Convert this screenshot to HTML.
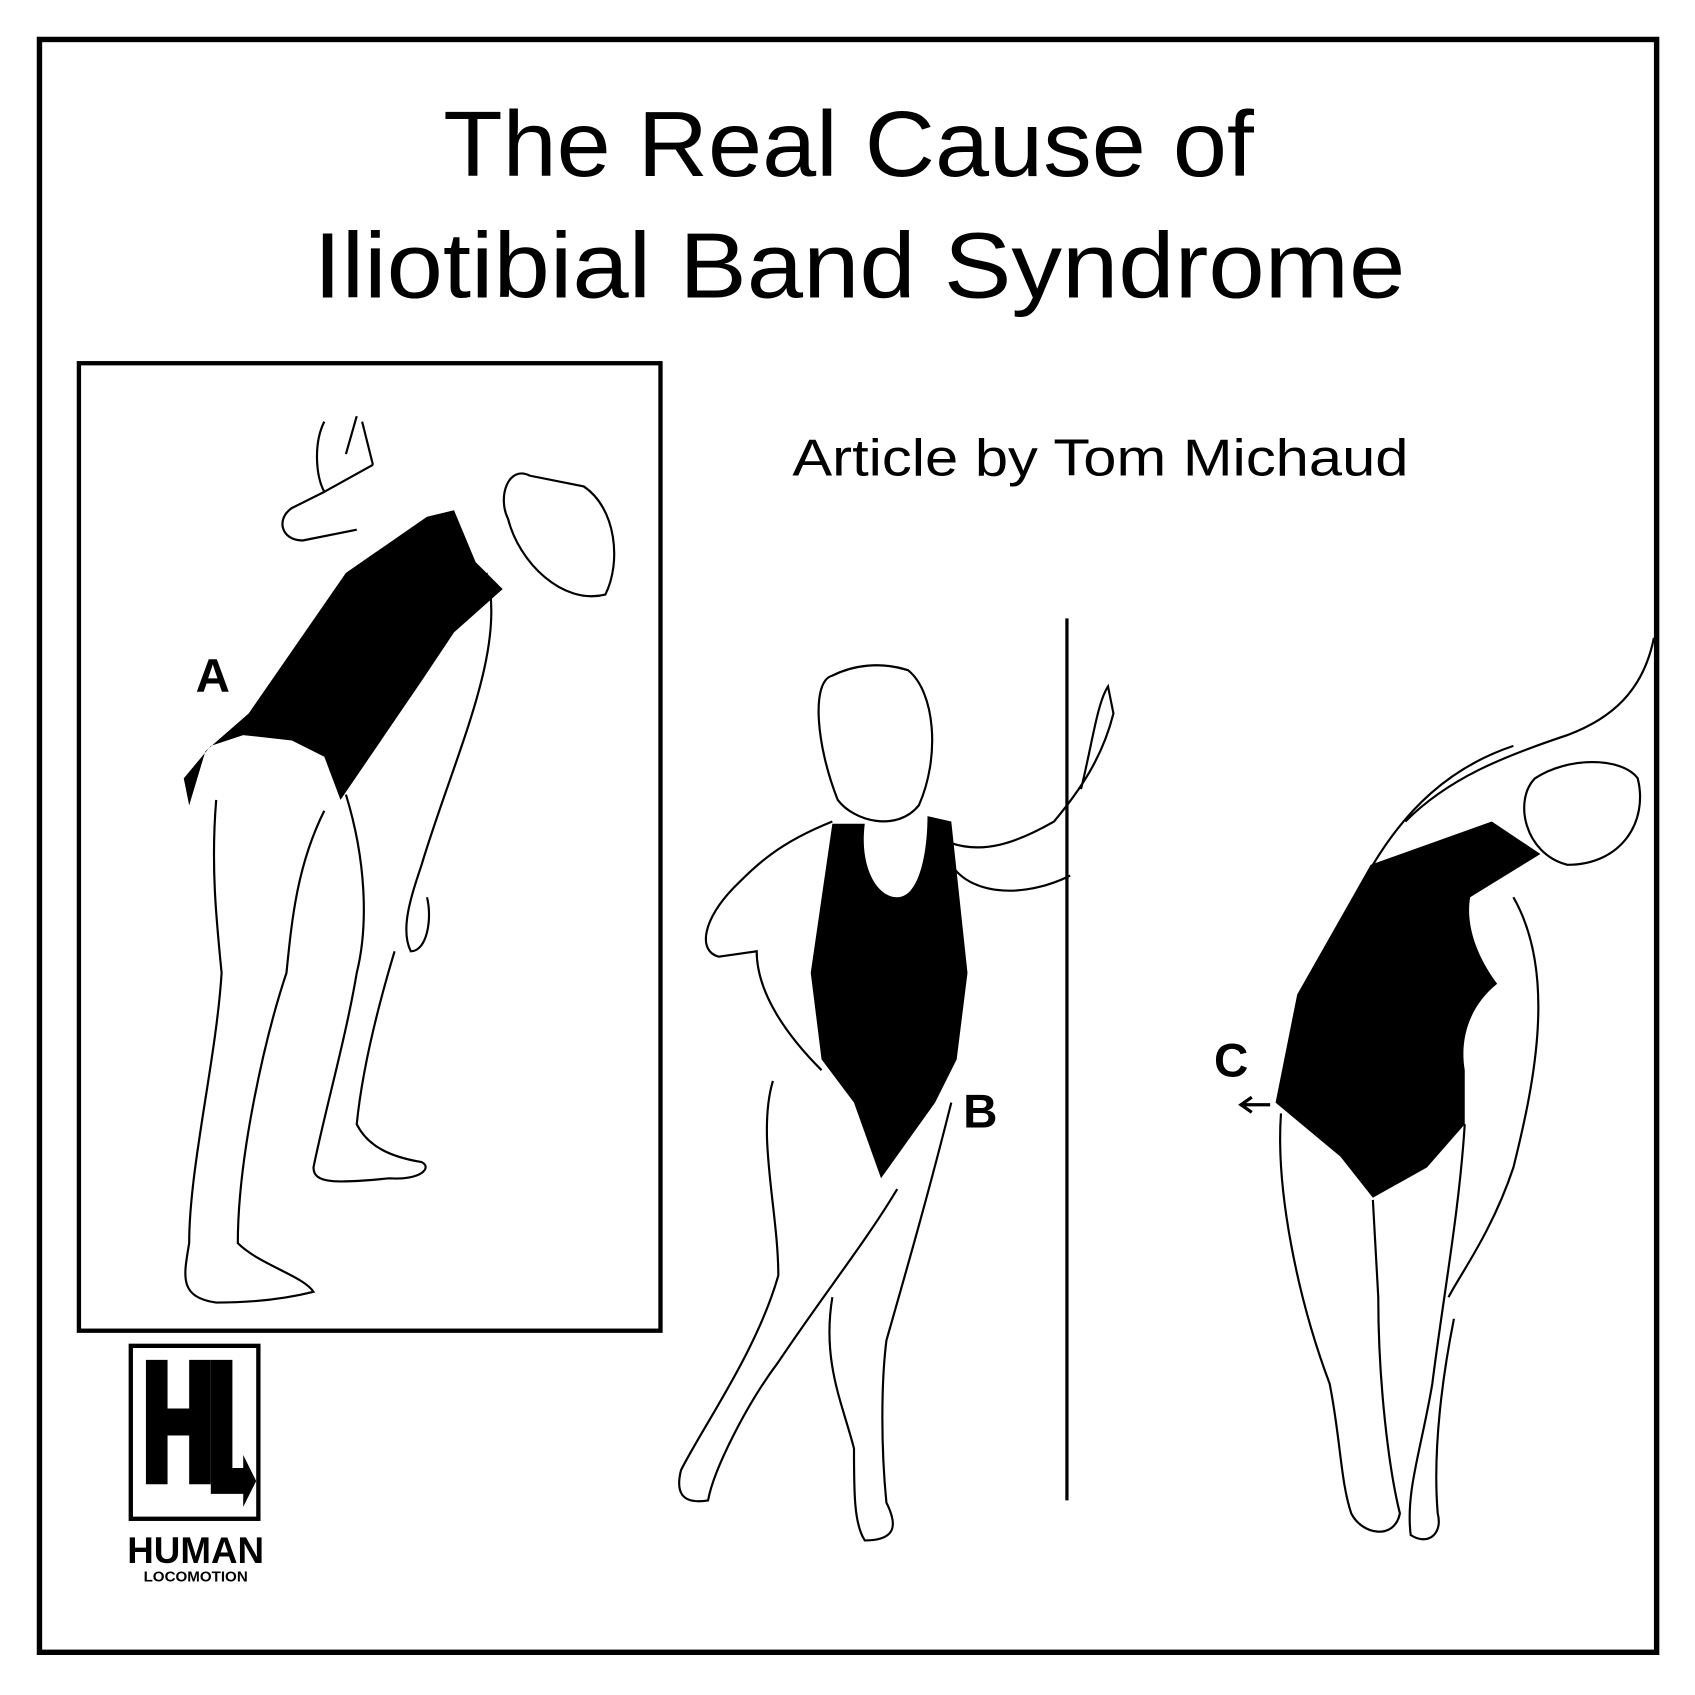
<!DOCTYPE html>
<html><head><meta charset="utf-8"><style>
html,body{margin:0;padding:0;background:#fff}
svg{display:block}
</style></head><body>
<svg width="1695" height="1695" viewBox="0 0 1568 1568" xmlns="http://www.w3.org/2000/svg">
<rect x="0" y="0" width="1568" height="1568" fill="#fff"/>
<rect x="36.5" y="36.5" width="1496" height="1492" fill="none" stroke="#000" stroke-width="5"/>
<text x="410" y="163" textLength="750" lengthAdjust="spacingAndGlyphs" font-family="Liberation Sans, sans-serif" font-size="86" fill="#000">The Real Cause of</text>
<text x="290" y="275" textLength="1010" lengthAdjust="spacingAndGlyphs" font-family="Liberation Sans, sans-serif" font-size="86" fill="#000">Iliotibial Band Syndrome</text>
<rect x="73" y="336" width="538" height="895" fill="none" stroke="#000" stroke-width="4"/>
<text x="733" y="440" textLength="570" lengthAdjust="spacingAndGlyphs" font-family="Liberation Sans, sans-serif" font-size="48" fill="#000">Article by Tom Michaud</text>
<line x1="987" y1="572" x2="987" y2="1388" stroke="#000" stroke-width="3"/>
<g font-family="Liberation Sans, sans-serif" font-weight="bold" font-size="44" fill="#000">
<text x="181" y="640">A</text><text x="891" y="1043">B</text><text x="1123" y="996">C</text></g>
<path d="M1175 1022 H1150 M1158 1015 L1148 1022 L1158 1029" stroke="#000" stroke-width="3" fill="none"/>

<g fill="none" stroke="#000" stroke-width="2">
<path d="M300 390 C290 410 292 440 300 455 L270 470 C255 480 260 500 280 500 L330 490"/>
<path d="M300 455 L345 430 M345 430 L335 390 M330 385 L320 420"/>
<path d="M490 440 C470 430 460 460 470 480 C480 520 520 560 560 550 C575 520 570 470 540 450 Z"/>
<path d="M450 530 C470 600 420 700 390 800 C380 830 370 860 380 880 C395 880 400 850 395 830"/>
<path d="M200 740 C195 800 200 850 205 900 C200 980 175 1080 175 1150 C170 1180 165 1200 200 1205 C240 1205 270 1200 290 1195 C280 1180 240 1170 220 1150 C220 1070 245 960 265 900 C270 850 275 800 300 750"/>
<path d="M320 735 C340 800 340 860 330 900 C320 960 300 1030 290 1080 C290 1095 310 1095 360 1090 C390 1092 400 1080 390 1075 C360 1070 340 1060 330 1040 C335 990 350 930 365 880"/>
<path d="M770 625 C750 630 755 690 775 740 C790 760 830 770 850 745 C870 700 865 640 840 620 C815 612 790 615 770 625 Z"/>
<path d="M770 760 C720 780 700 800 680 820 C650 850 645 880 665 885 L700 880 C700 920 730 960 760 990"/>
<path d="M880 780 C910 790 940 780 975 760 C1000 730 1020 700 1030 660 L1025 635 C1015 650 1010 690 1000 730"/>
<path d="M880 800 C900 830 950 830 990 810"/>
<path d="M715 1000 C700 1050 720 1120 720 1180 C700 1250 650 1320 630 1360 C625 1380 630 1392 655 1388 C660 1360 690 1300 720 1260 C760 1200 800 1150 830 1100"/>
<path d="M770 1200 C760 1260 780 1300 790 1340 C790 1380 790 1410 800 1425 C830 1425 830 1410 820 1390 C815 1340 815 1280 820 1240 C840 1170 860 1100 880 1020"/>
<path d="M1420 720 C1400 740 1410 790 1450 800 C1500 800 1525 760 1515 720 C1500 700 1450 700 1420 720 Z"/>
<path d="M1300 760 C1340 720 1390 700 1450 680 C1490 665 1520 640 1530 590"/>
<path d="M1270 800 C1300 750 1340 710 1400 690"/>
<path d="M1400 830 C1440 900 1420 1000 1400 1080 C1380 1140 1350 1180 1340 1200"/>
<path d="M1185 1030 C1180 1100 1200 1200 1230 1280 C1240 1330 1240 1370 1250 1400 C1260 1420 1290 1425 1295 1400 C1285 1360 1275 1280 1275 1200 L1270 1110"/>
<path d="M1355 1040 C1350 1120 1335 1200 1325 1280 C1315 1340 1300 1380 1305 1420 C1320 1430 1335 1420 1330 1400 C1325 1340 1335 1270 1345 1220"/>
</g>
<g fill="#000">
<path d="M320 530 L395 478 L420 472 L440 520 L465 545 L420 585 L390 630 L315 740 L300 700 L270 685 L225 680 L195 690 L170 720 L175 745 L190 695 L230 660 Z"/>
<path d="M770 762 L800 762 C795 800 810 830 830 830 C850 830 858 790 858 755 L880 760 L895 900 L885 980 L865 1020 L815 1090 L790 1020 L760 980 L750 900 Z"/>
<path d="M1268 800 L1380 760 L1425 790 L1360 830 C1355 860 1370 890 1385 910 C1360 930 1350 960 1355 990 L1355 1040 L1320 1080 L1270 1108 L1240 1070 L1180 1020 L1200 920 Z"/>
</g>
<rect x="121" y="1245" width="118" height="160" fill="none" stroke="#000" stroke-width="4"/>
<path d="M135 1258 h20 v45 h20 v-45 h20 v115 h-20 v-45 h-20 v45 h-20 z" fill="#000"/>
<path d="M195 1258 h20 v100 h10 v-12 l12 24 l-12 24 v-12 h-30 z" fill="#000"/>
<text x="181" y="1446" text-anchor="middle" font-family="Liberation Sans, sans-serif" font-weight="bold" font-size="34" fill="#000">HUMAN</text>
<text x="181" y="1463" text-anchor="middle" font-family="Liberation Sans, sans-serif" font-weight="bold" font-size="14" fill="#000">LOCOMOTION</text>
</svg>
</body></html>
